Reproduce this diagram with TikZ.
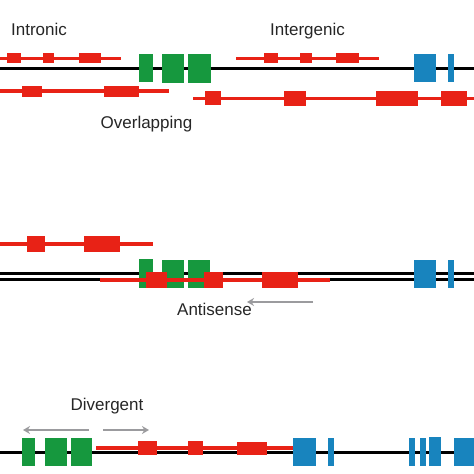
\documentclass[tikz,border=0pt]{standalone}
\usepackage{fontspec}
\setmainfont{Liberation Sans}
\usetikzlibrary{arrows.meta}
\definecolor{myred}{RGB}{232,34,22}
\definecolor{mygreen}{RGB}{22,152,62}
\definecolor{myblue}{RGB}{24,132,190}
\definecolor{mygray}{RGB}{155,155,158}
\begin{document}
\begin{tikzpicture}[x=1pt,y=-1pt,
  dnaline/.style={black,line width=3pt},
  dsline/.style={black,line width=2.2pt},
  rnaline/.style={myred,line width=3.5pt},
  rbox/.style={fill=myred},
  gbox/.style={fill=mygreen},
  bbox/.style={fill=myblue},
  dirarrow/.style={mygray,line width=2.5pt,-{Stealth[length=7pt,width=8pt]}},
  lbl/.style={anchor=base,inner sep=0pt,font=\fontsize{17}{20}\selectfont,text=black!85}]
\useasboundingbox (0,0) rectangle (474,474);

% ---------- Panel 1 ----------
\node[lbl] (intronic) at (39,35) {Intronic};
\node[lbl] (intergenic) at (307.5,35) {Intergenic};
\node[lbl] (overlapping) at (146.5,128) {Overlapping};

\draw[dnaline] (0,68.5) -- (474,68.5);
% intronic
\draw[rnaline] (0,58.5) -- (121,58.5);
\fill[rbox] (7,53) rectangle (21,63);
\fill[rbox] (43,53) rectangle (54,63);
\fill[rbox] (79,53) rectangle (101,63);
% intergenic
\draw[rnaline] (236,58.5) -- (379,58.5);
\fill[rbox] (264,53) rectangle (278,63);
\fill[rbox] (300,53) rectangle (312,63);
\fill[rbox] (336,53) rectangle (359,63);
% gene exons
\fill[gbox] (139,54) rectangle (153,82);
\fill[gbox] (162,54) rectangle (184,83);
\fill[gbox] (188,54) rectangle (211,83);
\fill[bbox] (414,54) rectangle (436,82);
\fill[bbox] (448,54) rectangle (454,82);
% overlapping
\draw[rnaline] (0,91) -- (169,91);
\fill[rbox] (22,86) rectangle (42,97);
\fill[rbox] (104,86) rectangle (139,97);
\draw[rnaline] (193,98.5) -- (474,98.5);
\fill[rbox] (205,91) rectangle (221,105);
\fill[rbox] (284,91) rectangle (306,106);
\fill[rbox] (376,91) rectangle (418,106);
\fill[rbox] (441,91) rectangle (467,106);

% ---------- Panel 2 ----------
\draw[rnaline] (0,244) -- (153,244);
\fill[rbox] (27,236) rectangle (45,252);
\fill[rbox] (84,236) rectangle (120,252);

\draw[dsline] (0,273.5) -- (474,273.5);
\draw[dsline] (0,279.5) -- (474,279.5);
\fill[gbox] (139,259) rectangle (153,288);
\fill[gbox] (162,260) rectangle (184,288);
\fill[gbox] (188,260) rectangle (210,288);
\fill[bbox] (414,260) rectangle (436,288);
\fill[bbox] (448,260) rectangle (454,288);
\draw[rnaline] (100,280) -- (330,280);
\fill[rbox] (146,272) rectangle (167,288);
\fill[rbox] (204,272) rectangle (223,288);
\fill[rbox] (262,272) rectangle (298,288);

\coordinate (asS) at (313,302);
\coordinate (asE) at (247,302);
\draw[dirarrow] (asS) -- (asE);
\node[lbl] (antisense) at (214.5,315) {Antisense};

% ---------- Panel 3 ----------
\node[lbl] (divergent) at (107,410) {Divergent};
\coordinate (dvL0) at (89,430);
\coordinate (dvL1) at (23,430);
\coordinate (dvR0) at (103,430);
\coordinate (dvR1) at (149,430);
\draw[dirarrow] (dvL0) -- (dvL1);
\draw[dirarrow] (dvR0) -- (dvR1);

\draw[dnaline] (0,452.5) -- (474,452.5);
\draw[myred,line width=4pt] (96,448) -- (294,448);
\fill[gbox] (22,438) rectangle (35,466);
\fill[gbox] (45,438) rectangle (67,466);
\fill[gbox] (71,438) rectangle (92,466);
\fill[rbox] (138,441) rectangle (157,455);
\fill[rbox] (188,441) rectangle (203,455);
\fill[rbox] (237,442) rectangle (267,455);
\fill[bbox] (293,438) rectangle (316,466);
\fill[bbox] (328,438) rectangle (334,466);
\fill[bbox] (409,438) rectangle (415,466);
\fill[bbox] (420,438) rectangle (426,466);
\fill[bbox] (429,437) rectangle (441,466);
\fill[bbox] (454,438) rectangle (474,466);
\end{tikzpicture}
\end{document}
